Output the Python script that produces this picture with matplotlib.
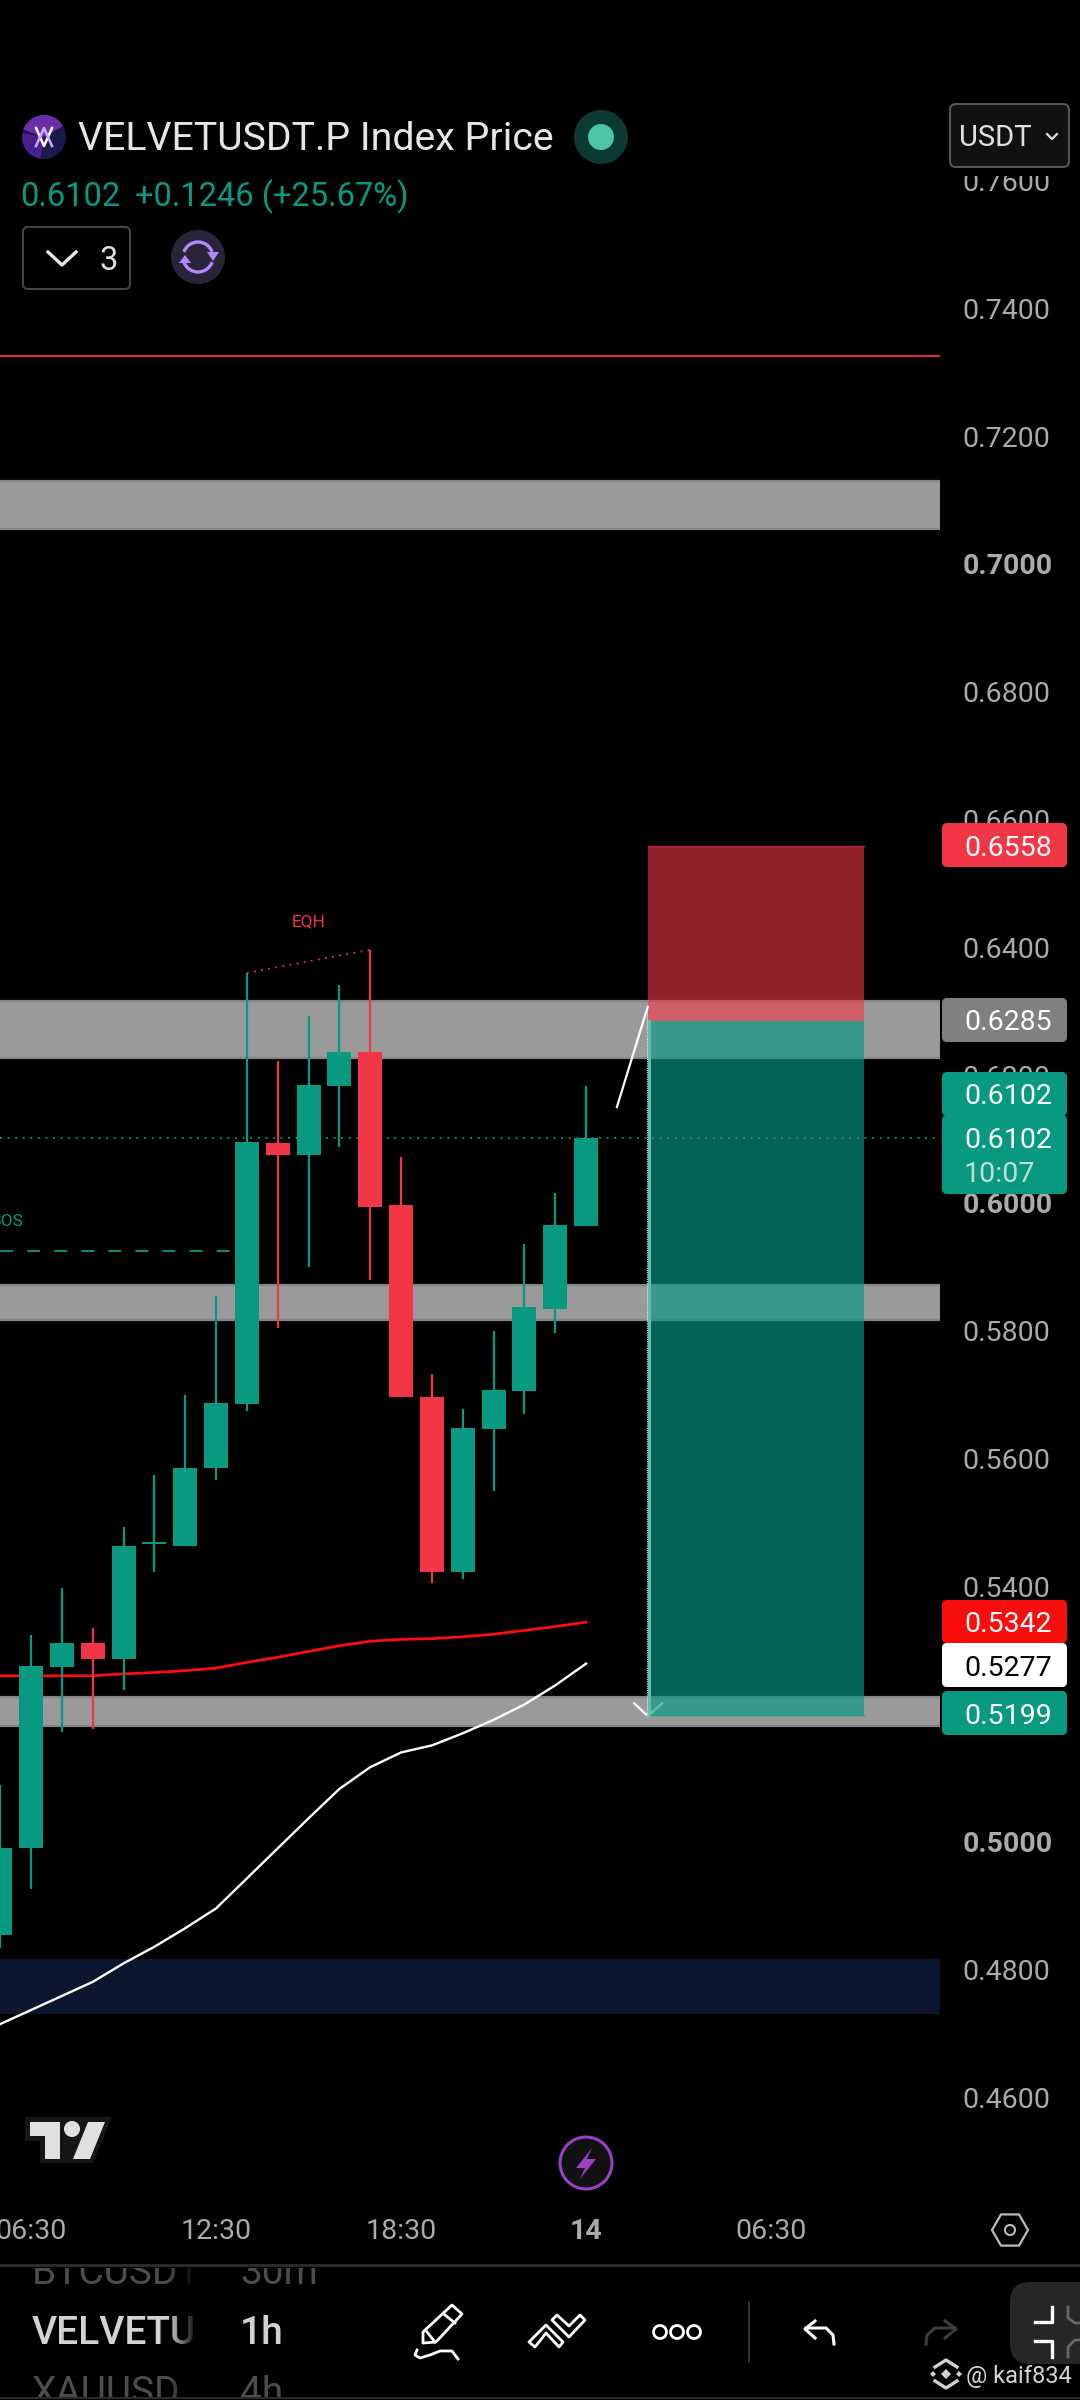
import numpy as np
import matplotlib
matplotlib.use("Agg")
import matplotlib.pyplot as plt
from matplotlib.patches import Circle, FancyBboxPatch, Polygon, Rectangle, Arc, Wedge

plt.rcParams["font.family"] = ["Roboto", "DejaVu Sans"]

# candles
opens = [0.4854, 0.4991, 0.5274, 0.5311, 0.5287, 0.5466, 0.5463, 0.5585, 0.5685, 0.6094,
         0.6075, 0.6183, 0.6236, 0.5997, 0.5696, 0.5423, 0.5646, 0.5705, 0.5834, 0.5964]
closes = [0.4991, 0.5275, 0.5311, 0.5287, 0.5463, 0.5469, 0.5585, 0.5687, 0.6095, 0.6075,
          0.6185, 0.6236, 0.5993, 0.5696, 0.5423, 0.5648, 0.5707, 0.5837, 0.5965, 0.6102]
highs = [0.5089, 0.5324, 0.5397, 0.5335, 0.5493, 0.5574, 0.5699, 0.5854, 0.6360, 0.6222,
         0.6292, 0.6341, 0.6396, 0.6072, 0.5732, 0.5678, 0.5800, 0.5935, 0.6016, 0.6183]
lows = [0.4834, 0.4926, 0.5172, 0.5177, 0.5237, 0.5423, 0.5463, 0.5566, 0.5674, 0.5804,
        0.5900, 0.6088, 0.5880, 0.5696, 0.5405, 0.5412, 0.5549, 0.5670, 0.5796, 0.5964]

ema_red = [0.5260, 0.5260, 0.5260, 0.5260, 0.5263, 0.5265, 0.5268, 0.5272, 0.5281, 0.5289,
           0.5298, 0.5307, 0.5314, 0.5317, 0.5318, 0.5321, 0.5325, 0.5331, 0.5337, 0.5344]
ema_white = [0.4715, 0.4737, 0.4759, 0.4781, 0.4810, 0.4836, 0.4865, 0.4896, 0.4943, 0.4990,
             0.5037, 0.5083, 0.5117, 0.5140, 0.5151, 0.5170, 0.5191, 0.5215, 0.5245, 0.5279]

gray_zones = [(0.7055, 0.7129), (0.6227, 0.6316), (0.5817, 0.5872), (0.5182, 0.5227)]
blue_zone = (0.4731, 0.4817)
red_level = 0.7325
last_price = 0.6102
bos_level = 0.5925
eqh_x = [8, 12]
eqh_y = [0.6360, 0.6396]

pos_start, pos_end = 21, 28
pos_stop, pos_entry, pos_target = 0.6558, 0.6285, 0.5199
proj_x = [20, 21]
proj_y = [0.6150, 0.6307]

price_ticks = [0.76, 0.74, 0.72, 0.70, 0.68, 0.66, 0.64, 0.62, 0.60, 0.58, 0.56, 0.54, 0.52, 0.50, 0.48, 0.46]
bold_ticks = [0.70, 0.60, 0.50]
time_pos = [1, 7, 13, 19, 25]
time_labels = ["06:30", "12:30", "18:30", "14", "06:30"]

flag_labels = ["0.6558", "0.6285", "0.6102", "0.6102", "0.5342", "0.5277", "0.5199"]
flag_tops = [823, 998, 1072, 1115, 1600, 1643, 1691]
flag_bottoms = [867, 1042, 1116, 1194, 1643, 1687, 1735]
flag_colors = ["#f23645", "#808080", "#089981", "#089981", "#f90d0d", "#ffffff", "#089981"]
flag_text = ["white", "white", "white", "white", "white", "black", "white"]

GREEN = "#089981"
RED = "#f23645"
TICK = "#ababab"

fig = plt.figure(figsize=(10.8, 24), dpi=100, facecolor="black")
ax = fig.add_axes([0, 1 - 2200 / 2400, 940 / 1080, 2200 / 2400], facecolor="black")
ax.set_xlim(-0.01, 30.48)
ax.set_ylim(0.44396, 0.78825)
for s in ax.spines.values():
    s.set_visible(False)

# zones
for lo, hi in gray_zones:
    ax.axhspan(lo, hi, color="#9a9a9a", lw=0, zorder=1)
    ax.axhline(lo, color="#868686", lw=1.6, zorder=1.1)
    ax.axhline(hi, color="#868686", lw=1.6, zorder=1.1)
ax.axhspan(blue_zone[0], blue_zone[1], color="#0a172e", lw=0, zorder=1)
ax.axhline(red_level, color=RED, lw=1.3, zorder=2)
ax.axhline(last_price, color=GREEN, lw=1.3, ls=(0, (1, 3.2)), zorder=2)

# emas
x = np.arange(len(opens))
ax.plot(x, ema_red, color="#f90d0d", lw=2, zorder=3)
ax.plot(x, ema_white, color="white", lw=1.7, zorder=3)

# candles
colors = [GREEN if c >= o else RED for o, c in zip(opens, closes)]
ax.vlines(x, lows, highs, color=colors, lw=1.6, zorder=4)
ax.bar(x, np.array(closes) - np.array(opens), bottom=opens, width=0.78, color=colors, lw=0, zorder=5)

# bos + eqh
ax.plot([-0.01, 7.45], [bos_level, bos_level], color=GREEN, lw=1.3, ls=(0, (7.2, 7.8)), zorder=3)
ax.text(0.22, bos_level + 0.0049, "BOS", color=GREEN, fontsize=12.5, ha="center", va="center_baseline", clip_on=True, zorder=6)
ax.plot(eqh_x, eqh_y, color=RED, lw=1.3, ls=(0, (1, 3)), zorder=6)
ax.text(10, 0.6443, "EQH", color=RED, fontsize=12.5, ha="center", va="center_baseline", zorder=6)

# long position tool
ax.fill_between([pos_start, pos_end], pos_entry, pos_stop, color=RED, alpha=0.6, lw=0, zorder=6)
ax.fill_between([pos_start, pos_end], pos_target, pos_entry, color=GREEN, alpha=0.65, lw=0, zorder=6)
ax.plot([pos_start, pos_end], [pos_stop, pos_stop], color="#b52a33", lw=1, zorder=6)
ax.plot([pos_start, pos_end], [pos_target, pos_target], color="#12a58c", lw=1, zorder=6)
ax.plot([pos_start + 0.05, pos_start + 0.05], [pos_target, pos_entry], color="#5fbfa8", lw=2.2, zorder=7)
ax.plot([pos_start - 0.03, pos_start - 0.03], [pos_target, proj_y[1]], color="#e8e8e8", lw=0.8, ls=(0, (1, 1)), zorder=7)
ax.plot(proj_x, proj_y, color="white", lw=1.6, zorder=7)
ax.plot([20.56, 21.0], [0.5217, 0.5197], color="white", lw=1.6, zorder=8)
ax.plot([21.0, 21.47], [0.5197, 0.5217], color="#5fbfa8", lw=1.6, zorder=8)

# axes ticks
ax.yaxis.tick_right()
ax.set_yticks(price_ticks)
ax.set_yticklabels(["%.4f" % t for t in price_ticks])
ax.tick_params(axis="y", length=0, pad=16, labelsize=20.5, labelcolor=TICK)
for lab, t in zip(ax.get_yticklabels(), price_ticks):
    if t in bold_ticks:
        lab.set_fontweight("bold")
ax.set_xticks(time_pos)
ax.set_xticklabels(time_labels)
ax.tick_params(axis="x", length=0, pad=13, labelsize=20.5, labelcolor=TICK)
for lab in ax.get_xticklabels():
    if lab.get_text() == "14":
        lab.set_fontweight("bold")

# everything else drawn in pixels on top
ui = fig.add_axes([0, 0, 1, 1], zorder=5)
ui.set_xlim(0, 1080)
ui.set_ylim(2400, 0)
ui.axis("off")

ui.add_patch(Rectangle((0, 0), 1080, 176, fc="black", lw=0, zorder=1))

# price flags
for lab, top, bot, col, tc in zip(flag_labels, flag_tops, flag_bottoms, flag_colors, flag_text):
    ui.add_patch(FancyBboxPatch((945, top + 3), 119, bot - top - 6, boxstyle="round,pad=3,rounding_size=5",
                                fc=col, lw=0, zorder=2))
    cy = (top + bot) / 2
    if bot - top > 60:
        cy = 1137
    ui.text(964, cy, lab, color=tc, fontsize=20.5, va="center_baseline", ha="left", zorder=3)
ui.text(964, 1172, "10:07", color="#c4dcd6", fontsize=20.5, va="center_baseline", ha="left", zorder=3)

# header
ui.add_patch(Circle((44, 137), 22, fc="#1c1a4a", lw=0, zorder=2))
ui.add_patch(Wedge((44, 137), 22, 200, 330, fc="#6a2fa8", lw=0, zorder=2))
ui.add_patch(Wedge((44, 137), 22, 100, 190, fc="#4a1f90", lw=0, zorder=2))
ui.plot([36, 44, 52], [128, 146, 128], color="white", lw=1.8, zorder=3)
ui.plot([36, 44, 52], [146, 128, 146], color="#cfa8ff", lw=1.8, zorder=3)
ui.text(78, 135, "VELVETUSDT.P Index Price", color="#e6e6e6", fontsize=28.3, va="center_baseline", ha="left", zorder=3)
ui.add_patch(Circle((601, 137), 27, fc="#0b3a33", lw=0, zorder=2))
ui.add_patch(Circle((601, 137), 13, fc="#4cc4a8", lw=0, zorder=3))
ui.text(20, 193, "0.6102", color=GREEN, fontsize=23.5, va="center_baseline", ha="left", zorder=3)
ui.text(135, 193, "+0.1246 (+25.67%)", color=GREEN, fontsize=23.5, va="center_baseline", ha="left", zorder=3)

ui.add_patch(FancyBboxPatch((27, 231), 99, 54, boxstyle="round,pad=4,rounding_size=5", fc="black", ec="#444444", lw=1.5, zorder=2))
ui.plot([48, 62, 76], [252, 265, 252], color="#e6e6e6", lw=2.4, zorder=3)
ui.text(109, 257, "3", color="#e0e0e0", fontsize=23.5, ha="center", va="center_baseline", zorder=3)
ui.add_patch(Circle((198, 257), 27, fc="#2a2438", lw=0, zorder=2))
ui.add_patch(Arc((198, 257), 30, 30, theta1=200, theta2=340, ec="#b388ff", lw=2.4, zorder=3))
ui.add_patch(Arc((198, 257), 30, 30, theta1=20, theta2=160, ec="#b388ff", lw=2.4, zorder=3))
ui.add_patch(Polygon([[207, 252], [219, 252], [213, 261]], fc="#b388ff", lw=0, zorder=3))
ui.add_patch(Polygon([[179, 263], [191, 263], [185, 255]], fc="#b388ff", lw=0, zorder=3))

ui.add_patch(FancyBboxPatch((954, 108), 111, 55, boxstyle="round,pad=4,rounding_size=6", fc="#111111", ec="#555555", lw=1.5, zorder=2))
ui.text(959, 135, "USDT", color="#e0e0e0", fontsize=21, va="center_baseline", ha="left", zorder=3)
ui.plot([1047, 1052, 1057], [134, 139, 134], color="#e0e0e0", lw=1.6, zorder=3)

# tv logo
ui.add_patch(Polygon([[25, 2117], [112, 2117], [93, 2163], [40, 2163], [40, 2141], [25, 2141]], fc="#161616", lw=0, zorder=2))
ui.add_patch(Polygon([[30, 2122], [60, 2122], [60, 2159], [45, 2159], [45, 2136], [30, 2136]], fc="#e0e0e0", lw=0, zorder=3))
ui.add_patch(Circle((72, 2129), 8, fc="#e0e0e0", lw=0, zorder=3))
ui.add_patch(Polygon([[88, 2122], [105, 2122], [90, 2159], [73, 2159]], fc="#e0e0e0", lw=0, zorder=3))

# lightning button
ui.add_patch(Circle((586, 2163), 26, fc="#111111", ec="#9c3fc4", lw=2.2, zorder=3))
ui.add_patch(Polygon([[592, 2148], [576, 2168], [585, 2168], [580, 2179], [596, 2159], [587, 2159]], fc="#9c3fc4", lw=0, zorder=4))

# settings hexagon
ang = np.deg2rad(np.arange(0, 360, 60))
ui.add_patch(Polygon(np.c_[1010 + 18 * np.cos(ang), 2230 + 18 * np.sin(ang)], fc="none", ec="#bbbbbb", lw=1.6, zorder=3))
ui.add_patch(Circle((1010, 2230), 5, fc="none", ec="#bbbbbb", lw=1.5, zorder=3))

# bottom bar
ui.plot([0, 1080], [2265, 2265], color="#2a2a2a", lw=2.2, zorder=3)
ui.plot([0, 1080], [2398, 2398], color="#2a2a2a", lw=1.5, zorder=3)


def clipped(px, py, s, color, clip, **kw):
    t = ui.text(px, py, s, color=color, fontsize=28, va="center_baseline", ha="left", zorder=3, **kw)
    t.set_clip_on(True)
    t.set_clip_path(Rectangle((clip[0], clip[1]), clip[2], clip[3], transform=ui.transData))


clipped(32, 2269, "BTCUSDT", "#4d4d4d", (0, 2268, 198, 40))
clipped(240, 2269, "30m", "#4d4d4d", (0, 2268, 400, 40))
clipped(32, 2330, "VELVETU", "#d2d2d2", (0, 2290, 198, 80), fontweight="medium")
clipped(240, 2330, "1h", "#d2d2d2", (0, 2290, 400, 80), fontweight="medium")
clipped(32, 2389, "XAUUSD", "#4d4d4d", (0, 2370, 198, 27))
clipped(240, 2389, "4h", "#4d4d4d", (0, 2370, 400, 27))
# names fade out to the right
for k in range(14):
    ui.add_patch(Rectangle((170 + 2 * k, 2268), 2, 128, fc="black", alpha=(k + 1) / 14, lw=0, zorder=4))

# pencil
ui.add_patch(Polygon([[452, 2305], [462, 2314], [436, 2342], [423, 2343], [423, 2332]], fc="none", ec="white", lw=2, joinstyle="round", zorder=3))
ui.plot([427, 435], [2332, 2342], color="white", lw=2, zorder=3)
ui.plot([445, 455], [2315, 2323], color="white", lw=2, zorder=3)
ui.plot([417, 415, 420, 430, 440, 452, 458], [2350, 2355, 2358, 2355, 2351, 2351, 2359], color="white", lw=2, zorder=3)
# two-line tool
ui.add_patch(Polygon([[529, 2342], [546, 2325], [563, 2342], [559, 2347], [546, 2333], [535, 2347]], fc="none", ec="white", lw=2, joinstyle="round", zorder=3))
ui.add_patch(Polygon([[552, 2320], [557, 2315], [569, 2326], [580, 2315], [585, 2320], [569, 2337]], fc="none", ec="white", lw=2, joinstyle="round", zorder=3))
# dots
for cx in [660, 677, 694]:
    ui.add_patch(Circle((cx, 2332), 6.5, fc="none", ec="white", lw=2, zorder=3))
ui.plot([749, 749], [2302, 2362], color="#333333", lw=1.4, zorder=3)
# undo / redo
ui.plot([834, 833, 826, 806], [2344, 2335, 2328, 2328], color="white", lw=2.2, zorder=3)
ui.plot([815, 805, 815], [2321, 2329, 2338], color="white", lw=2.2, zorder=3)
ui.plot([926, 927, 935, 955], [2344, 2335, 2328, 2328], color="#3d3d3d", lw=2.2, zorder=3)
ui.plot([945, 956, 945], [2321, 2329, 2338], color="#3d3d3d", lw=2.2, zorder=3)
# fullscreen button
ui.add_patch(FancyBboxPatch((1020, 2292), 90, 62, boxstyle="round,pad=10,rounding_size=20", fc="#262628", lw=0, zorder=2))
ui.plot([1035, 1052, 1052], [2322, 2322, 2307], color="white", lw=2.4, zorder=3)
ui.plot([1035, 1052, 1052], [2341, 2341, 2357], color="white", lw=2.4, zorder=3)
ui.plot([1068, 1068, 1075, 1080], [2307, 2318, 2323, 2323], color="#666666", lw=2, zorder=3)
ui.plot([1068, 1068, 1075, 1080], [2357, 2347, 2340, 2340], color="#666666", lw=2, zorder=3)

# watermark
ui.plot([935, 946, 957], [2367, 2360, 2367], color="#d0d0d0", lw=2.4, zorder=4)
ui.plot([935, 946, 957], [2381, 2388, 2381], color="#d0d0d0", lw=2.4, zorder=4)
for cx, cy, r in [(946, 2374, 5), (933, 2374, 3), (959, 2374, 3)]:
    ui.add_patch(Polygon([[cx, cy - r], [cx + r, cy], [cx, cy + r], [cx - r, cy]], fc="#d0d0d0", lw=0, zorder=4))
ui.text(966, 2374, "@ kaif834", color="#d4d4d4", fontsize=17, va="center_baseline", ha="left", zorder=4)

fig.savefig("out.png", dpi=100, facecolor="black")
